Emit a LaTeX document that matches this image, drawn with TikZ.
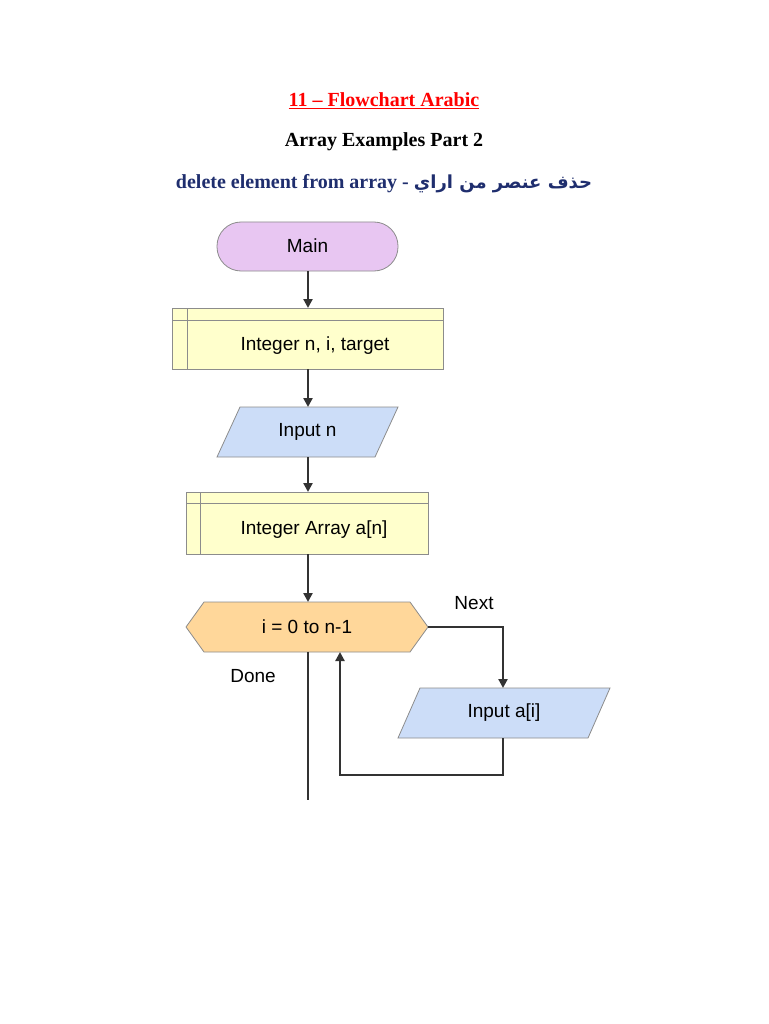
\documentclass[tikz,border=0pt]{standalone}
\usepackage{fontspec}
\setmainfont{Liberation Serif}
\newfontfamily\boxfont{Liberation Sans}
\newfontfamily\arabicfont[Script=Arabic]{DejaVu Sans}
\TeXXeTstate=1
\usetikzlibrary{arrows.meta}
\definecolor{navy}{HTML}{1F2E6E}
\definecolor{term}{HTML}{E8C6F2}
\definecolor{decl}{HTML}{FFFFCC}
\definecolor{inp}{HTML}{CCDDF8}
\definecolor{loopc}{HTML}{FFD79A}
\definecolor{edge}{HTML}{8C8C8C}
\begin{document}
\begin{tikzpicture}[x=1pt,y=-1pt,
  shp/.style={draw=edge,line width=0.8pt},
  lbl/.style={font=\boxfont\fontsize{19}{22}\selectfont},
  flow/.style={draw=black!80,line width=2.5pt},
  arr/.style={flow,-{Triangle[length=9pt,width=9pt]}}]
\useasboundingbox (0,0) rectangle (768,1024);
\node[font=\bfseries\fontsize{20}{24}\selectfont,text=red] (t1) at (384,101) {\underline{11 -- Flowchart Arabic}};
\node[font=\bfseries\fontsize{20}{24}\selectfont] (t2) at (384,142) {Array Examples Part 2};
\node[font=\bfseries\fontsize{20}{24}\selectfont,text=navy] (t3) at (384,184) {delete element from array - {\arabicfont\fontsize{18}{22}\selectfont\beginR حذف عنصر من اراي\endR}};
% Main
\draw[shp,fill=term,rounded corners=24pt] (217,222) rectangle (398,271);
\node[lbl] (main) at (307.5,246) {Main};
% declaration 1
\draw[shp,fill=decl] (172,308) rectangle (443,369);
\draw[shp] (187,308) -- (187,369) (172,320) -- (443,320);
\node[lbl] (d1) at (315,346) {Integer n, i, target};
% input n
\draw[shp,fill=inp] (240,407) -- (398,407) -- (375,457) -- (217,457) -- cycle;
\node[lbl] (in1) at (307.5,432) {Input n};
% declaration 2
\draw[shp,fill=decl] (186,492) rectangle (428,554);
\draw[shp] (200,492) -- (200,554) (186,503) -- (428,503);
\node[lbl] (d2) at (314,530) {Integer Array a[n]};
% loop
\draw[shp,fill=loopc] (186,627) -- (204,602) -- (410,602) -- (428,627) -- (410,652) -- (204,652) -- cycle;
\node[lbl] (lp) at (307,627) {i = 0 to n-1};
% input a[i]
\draw[shp,fill=inp] (420,688) -- (610,688) -- (588,738) -- (398,738) -- cycle;
\node[lbl] (in2) at (504,713) {Input a[i]};
\node[lbl] (nx) at (474,603) {Next};
\node[lbl] (dn) at (253,676) {Done};
\coordinate (c1) at (308,271); \coordinate (c2) at (308,308);
\coordinate (c3) at (308,369); \coordinate (c4) at (308,407);
\coordinate (c5) at (308,457); \coordinate (c6) at (308,492);
\coordinate (c7) at (308,554); \coordinate (c8) at (308,602);
\coordinate (r0) at (428,627); \coordinate (r1) at (503,688);
\coordinate (b0) at (503,738); \coordinate (b1) at (340,652);
\coordinate (e0) at (308,652); \coordinate (e1) at (308,800);
\draw[arr] (c1) -- (c2);
\draw[arr] (c3) -- (c4);
\draw[arr] (c5) -- (c6);
\draw[arr] (c7) -- (c8);
\draw[arr] (r0) -| (r1);
\draw[flow,-{Triangle[length=9pt,width=9pt]},line width=2.2pt] (b0) -- (503,775) -- (340,775) -- (b1);
\draw[flow] (e0) -- (e1);
\end{tikzpicture}
\end{document}
